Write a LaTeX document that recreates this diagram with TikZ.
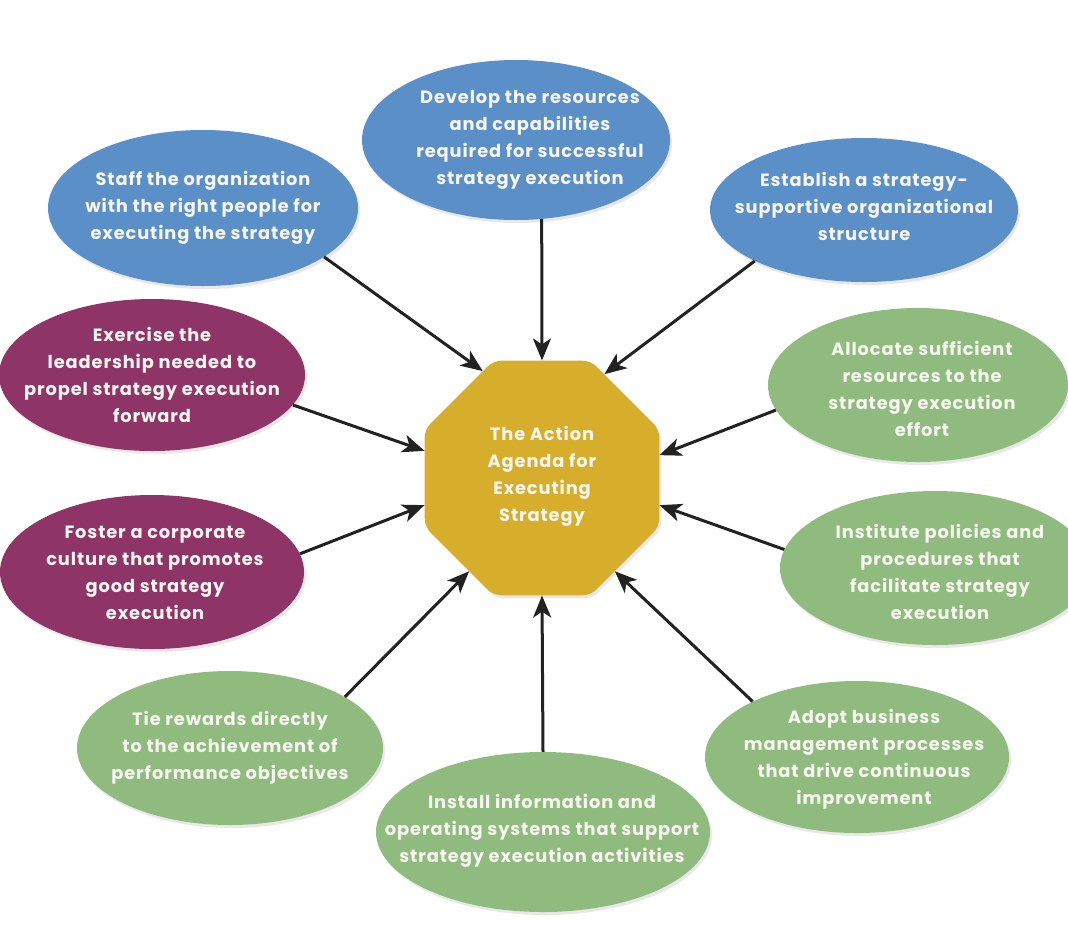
\documentclass[tikz,border=0pt]{standalone}
\usepackage{fontspec}
\setmainfont{Poppins}[LetterSpace=5]
\usetikzlibrary{shapes.geometric,arrows.meta,shadows}
\definecolor{cblue}{HTML}{5A8FC7}
\definecolor{cpurple}{HTML}{8E3466}
\definecolor{cgreen}{HTML}{8FBC7E}
\definecolor{cgold}{HTML}{D6AE2C}
\definecolor{carrow}{HTML}{222222}
\definecolor{ctext}{HTML}{F8F6F0}
\tikzset{
  bubble/.style 2 args={ellipse, inner sep=0pt, draw=none, minimum width=#1, minimum height=#2,
     drop shadow={opacity=0.18, shadow xshift=2pt, shadow yshift=-3pt}},
  txt/.style={align=center, text=ctext, inner sep=0pt,
     font=\fontsize{17.8}{27}\selectfont\bfseries},
  conn/.style={draw=carrow, line width=3pt,
     -{Stealth[length=22pt, width=18pt, inset=6pt]}},
}
\begin{document}
\begin{tikzpicture}[x=1pt,y=-1pt]
\useasboundingbox[fill=white] (0,0) rectangle (1068,930);

% bubbles
\node[bubble={308pt}{160pt}, fill=cblue]   (develop)   at (516,140) {};
\node[bubble={310pt}{156pt}, fill=cblue]   (staff)     at (203,208) {};
\node[bubble={308pt}{144pt}, fill=cblue]   (establish) at (864,210) {};
\node[bubble={306pt}{152pt}, fill=cpurple] (exercise)  at (152,375) {};
\node[bubble={300pt}{154pt}, fill=cgreen]  (allocate)  at (918,385) {};
\node[bubble={304pt}{154pt}, fill=cpurple] (foster)    at (152,572) {};
\node[bubble={310pt}{154pt}, fill=cgreen]  (institute) at (935,568) {};
\node[bubble={306pt}{154pt}, fill=cgreen]  (tie)       at (230,748) {};
\node[bubble={334pt}{160pt}, fill=cgreen]  (install)   at (543,832) {};
\node[bubble={304pt}{152pt}, fill=cgreen]  (adopt)     at (857,757) {};

% centre octagon
\node[regular polygon, regular polygon sides=8, minimum size=254pt, inner sep=0pt,
      fill=cgold, rounded corners=8pt,
      drop shadow={opacity=0.18, shadow xshift=2pt, shadow yshift=-3pt}] (oct) at (542,478) {};

% texts
\node[txt] (develop-t)   at (530,140) {Develop the resources\\and capabilities\\required for successful\\strategy execution};
\node[txt] (staff-t)     at (203,208) {Staff the organization\\with the right people for\\executing the strategy};
\node[txt] (establish-t) at (864,206) {Establish a strategy-\\supportive organizational\\structure};
\node[txt] (exercise-t)  at (152,375) {Exercise the\\leadership needed to\\propel strategy execution\\forward};
\node[txt] (allocate-t)  at (922,389) {Allocate sufficient\\resources to the\\strategy execution\\effort};
\node[txt] (foster-t)    at (155,573) {Foster a corporate\\culture that promotes\\good strategy\\execution};
\node[txt] (institute-t) at (940,572) {Institute policies and\\procedures that\\facilitate strategy\\execution};
\node[txt] (tie-t)       at (230,748) {Tie rewards directly\\to the achievement of\\performance objectives};
\node[txt] (install-t)   at (542,831) {Install information and\\operating systems that support\\strategy execution activities};
\node[txt] (adopt-t)     at (864,759) {Adopt business\\management processes\\that drive continuous\\improvement};
\node[txt] (oct-t)       at (542,476) {The Action\\Agenda for\\Executing\\Strategy};

% connectors
\draw[conn] (develop.-72)    -- (oct.90);
\draw[conn] (staff.-22.6)    -- (oct.119.2);
\draw[conn] (establish.205.9) -- (oct.59.7);
\draw[conn] (exercise.-12.4) -- (oct.167.5);
\draw[conn] (allocate.190.8) -- (oct.11.7);
\draw[conn] (foster.7.9)     -- (oct.193.9);
\draw[conn] (institute.173.3) -- (oct.-13.5);
\draw[conn] (tie.24.9)       -- (oct.232.4);
\draw[conn] (install.90)     -- (oct.270);
\draw[conn] (adopt.152)      -- (oct.-52.3);
\end{tikzpicture}
\end{document}
